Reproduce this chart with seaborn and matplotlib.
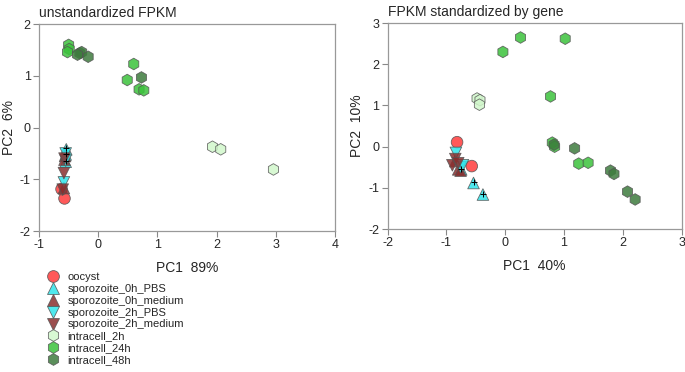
import matplotlib
matplotlib.use('Agg')
import matplotlib.pyplot as plt
import pandas as pd
import seaborn as sns

groups = ['oocyst', 'sporozoite_0h_PBS', 'sporozoite_0h_medium',
          'sporozoite_2h_PBS', 'sporozoite_2h_medium',
          'intracell_2h', 'intracell_24h', 'intracell_48h']
colors = ['#ff3c3c', '#30e4ea', '#8a2f2f', '#30e4ea', '#8a2f2f',
          '#d2f7cc', '#3cc23c', '#3e7c3e']
markers = ['o', '^', '^', 'v', 'v', 'h', 'h', 'h']

# unstandardized FPKM
raw_pc1 = {
    'oocyst': [-0.57, -0.62],
    'sporozoite_0h_PBS': [-0.54, -0.55, -0.55],
    'sporozoite_0h_medium': [-0.56, -0.57, -0.58],
    'sporozoite_2h_PBS': [-0.58, -0.55, -0.55],
    'sporozoite_2h_medium': [-0.58, -0.57, -0.60],
    'intracell_2h': [1.93, 2.07, 2.96],
    'intracell_24h': [-0.50, -0.49, -0.52, 0.60, 0.49, 0.69, 0.77],
    'intracell_48h': [-0.31, -0.28, -0.17, -0.35, 0.73],
}
raw_pc2 = {
    'oocyst': [-1.37, -1.19],
    'sporozoite_0h_PBS': [-0.42, -0.52, -0.66],
    'sporozoite_0h_medium': [-0.55, -0.62, -1.17],
    'sporozoite_2h_PBS': [-1.06, -0.50, -0.64],
    'sporozoite_2h_medium': [-0.88, -0.60, -1.20],
    'intracell_2h': [-0.37, -0.42, -0.81],
    'intracell_24h': [1.60, 1.52, 1.46, 1.23, 0.92, 0.74, 0.72],
    'intracell_48h': [1.44, 1.46, 1.37, 1.41, 0.97],
}

# FPKM standardized by gene
std_pc1 = {
    'oocyst': [-0.82, -0.57],
    'sporozoite_0h_PBS': [-0.54, -0.38, -0.75],
    'sporozoite_0h_medium': [-0.80, -0.76, -0.85],
    'sporozoite_2h_PBS': [-0.84, -0.76, -0.72],
    'sporozoite_2h_medium': [-0.90, -0.85, -0.80],
    'intracell_2h': [-0.48, -0.43, -0.44],
    'intracell_24h': [0.26, 1.02, -0.04, 0.77, 0.80, 0.84, 1.25, 1.41],
    'intracell_48h': [1.18, 1.79, 1.85, 2.08, 2.21, 0.83],
}
std_pc2 = {
    'oocyst': [0.11, -0.47],
    'sporozoite_0h_PBS': [-0.88, -1.16, -0.55],
    'sporozoite_0h_medium': [-0.55, -0.58, -0.35],
    'sporozoite_2h_PBS': [-0.15, -0.50, -0.45],
    'sporozoite_2h_medium': [-0.45, -0.30, -0.40],
    'intracell_2h': [1.17, 1.13, 1.02],
    'intracell_24h': [2.65, 2.62, 2.30, 1.22, 0.10, 0.00, -0.41, -0.39],
    'intracell_48h': [-0.04, -0.58, -0.66, -1.09, -1.28, 0.05],
}


def to_frame(pc1, pc2):
    rows = []
    for g in groups:
        for x, y in zip(pc1[g], pc2[g]):
            rows.append((g, x, y))
    return pd.DataFrame(rows, columns=['group', 'PC1', 'PC2'])


sns.set_style('white')
plt.rcParams['font.family'] = ['Liberation Sans', 'DejaVu Sans']
plt.rcParams['axes.unicode_minus'] = False

palette = dict(zip(groups, colors))
marker_map = dict(zip(groups, markers))

fig = plt.figure(figsize=(6.85, 3.72), dpi=100)
ax1 = fig.add_axes([0.057, 0.379, 0.432, 0.556])
ax2 = fig.add_axes([0.566, 0.384, 0.429, 0.554])

panels = [
    (ax1, to_frame(raw_pc1, raw_pc2), 'unstandardized FPKM', 'PC1  89%', 'PC2  6%',
     (-1, 4), (-2, 2)),
    (ax2, to_frame(std_pc1, std_pc2), 'FPKM standardized by gene', 'PC1  40%', 'PC2  10%',
     (-2, 3), (-2, 3)),
]

for ax, df, title, xlab, ylab, xlim, ylim in panels:
    sns.scatterplot(data=df, x='PC1', y='PC2', hue='group', style='group',
                    hue_order=groups, style_order=groups,
                    palette=palette, markers=marker_map, s=70, alpha=0.85,
                    edgecolor='#555555', linewidth=0.6, ax=ax,
                    legend=(ax is ax1))
    # small crosses drawn on the 0h PBS triangles
    sub = df[df['group'] == 'sporozoite_0h_PBS']
    ax.scatter(sub['PC1'], sub['PC2'] + 0.02 * (ylim[1] - ylim[0]) / 5,
               marker='+', s=14, color='black', linewidth=0.7, zorder=5)
    ax.set_xlim(*xlim)
    ax.set_ylim(*ylim)
    ax.set_xticks(range(xlim[0], xlim[1] + 1))
    ax.set_yticks(range(ylim[0], ylim[1] + 1))
    ax.set_title(title, loc='left', fontsize=10, pad=5, x=0.0)
    ax.set_xlabel(xlab, fontsize=10, labelpad=7)
    ax.set_ylabel(ylab, fontsize=10, labelpad=3)
    ax.tick_params(axis='both', labelsize=9, direction='out', length=4,
                   width=0.8, color='#888888', bottom=True, left=True, pad=2)
    for sp in ax.spines.values():
        sp.set_color('#999999')
        sp.set_linewidth(0.9)

handles, labels = ax1.get_legend_handles_labels()
ax1.get_legend().remove()
for h in handles:
    h.set_markersize(8.5)
fig.legend(handles, labels, loc='upper left', bbox_to_anchor=(0.068, 0.268),
           frameon=False, fontsize=8, handletextpad=0.7, labelspacing=0.16,
           borderaxespad=0, handlelength=1.2, borderpad=0)

fig.savefig('out.png', dpi=100)
